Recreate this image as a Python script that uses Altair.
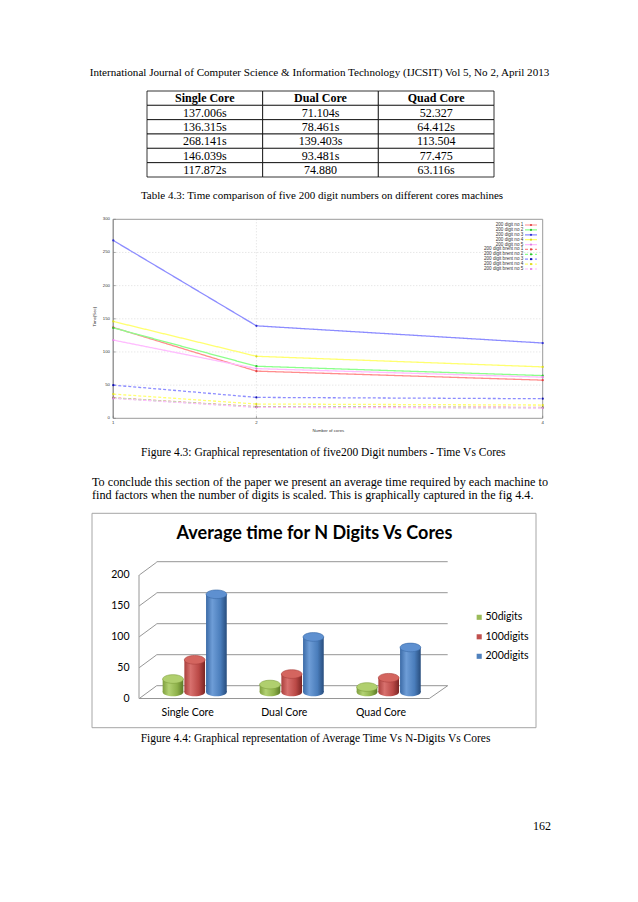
import altair as alt
import pandas as pd

M = 8  # page margin of the html page


def cx(v):
    return v - M


def cy(v):
    return v - M


SERIF = "Liberation Serif"
SANS = "Liberation Sans"
CAL = "Lato"

# ---------------- data ----------------
header_text = "International Journal of Computer Science & Information Technology (IJCSIT) Vol 5, No 2, April 2013"

table_header = ["Single Core", "Dual Core", "Quad Core"]
table_single = ["137.006s", "136.315s", "268.141s", "146.039s", "117.872s"]
table_dual = ["71.104s", "78.461s", "139.403s", "93.481s", "74.880"]
table_quad = ["52.327", "64.412s", "113.504", "77.475", "63.116s"]
table_caption = "Table 4.3: Time comparison of five 200 digit numbers on different cores machines"

cores = [1, 2, 4]
line_series = [
    "200 digit no 1", "200 digit no 2", "200 digit no 3", "200 digit no 4", "200 digit no 5",
    "200 digit brent no 1", "200 digit brent no 2", "200 digit brent no 3",
    "200 digit brent no 4", "200 digit brent no 5",
]
line_styles = ["solid"] * 5 + ["dashed"] * 5
digit_no_1 = [137.0, 71.1, 57.5]
digit_no_2 = [136.3, 78.5, 64.4]
digit_no_3 = [268.1, 139.4, 113.5]
digit_no_4 = [146.0, 93.5, 77.5]
digit_no_5 = [117.9, 74.9, 62.0]
brent_no_1 = [31.0, 17.5, 16.5]
brent_no_2 = [30.5, 17.0, 16.0]
brent_no_3 = [50.0, 31.5, 29.5]
brent_no_4 = [36.5, 21.5, 20.0]
brent_no_5 = [30.0, 16.5, 15.5]
line_colors = ["#ff8c8c", "#8cff8c", "#8c8cff", "#ffff70", "#ffbbff",
               "#ff8c8c", "#8cff8c", "#8c8cff", "#ffff70", "#ffbbff"]
point_colors = ["#e04040", "#30c030", "#3030d0", "#d8d820", "#e080e0",
                "#e04040", "#30c030", "#1010b0", "#d8d820", "#e080e0"]
time_ticks = [0, 50, 100, 150, 200, 250, 300]
core_ticks = [1, 2, 4]
x_title = "Number of cores"
y_title = "Time(Sec)"
fig43_caption = "Figure 4.3: Graphical representation of five200 Digit numbers - Time Vs Cores"

paragraph_lines = [
    "To conclude this section of the paper we present an average time required by each machine to",
    "find factors when the number of digits is scaled. This is graphically captured in the fig 4.4.",
]

bar_title = "Average time for N Digits Vs Cores"
bar_categories = ["Single Core", "Dual Core", "Quad Core"]
bar_series = ["50digits", "100digits", "200digits"]
avg_50 = [21, 12, 8]
avg_100 = [52, 29, 23]
avg_200 = [158, 89, 72]
bar_ticks = [0, 50, 100, 150, 200]
bar_colors = ["#9bbb59", "#c0504d", "#4f81bd"]
fig44_caption = "Figure 4.4: Graphical representation of Average Time Vs N-Digits Vs Cores"
page_number = "162"

layers = []


def label(text, x, y, size, font=SERIF, align="center", weight="normal",
          color="black", angle=0, baseline="middle"):
    return alt.Chart(pd.DataFrame({"t": [text]})).mark_text(
        font=font, fontSize=size, align=align, baseline=baseline,
        fontWeight=weight, color=color, angle=angle,
    ).encode(x=alt.value(cx(x)), y=alt.value(cy(y)), text="t:N")


def box(x0, x1, y0, y1, stroke, width=1.0):
    return alt.Chart(pd.DataFrame({"a": [0]})).mark_rect(
        fill="white", fillOpacity=0, stroke=stroke, strokeWidth=width
    ).encode(x=alt.value(cx(x0)), x2=alt.value(cx(x1)),
             y=alt.value(cy(y0)), y2=alt.value(cy(y1)))


# ---------------- header ----------------
layers.append(label(header_text, 319.5, 73, 11.1))

# ---------------- table ----------------
row_ids = ["h", "r1", "r2", "r3", "r4", "r5"]
cells = []
for col, vals in zip(table_header, [table_single, table_dual, table_quad]):
    cells.append({"col": col, "row": "h", "t": col, "hdr": True})
    for rid, v in zip(row_ids[1:], vals):
        cells.append({"col": col, "row": rid, "t": v, "hdr": False})
tdf = pd.DataFrame(cells)
TX = alt.Scale(type="band", domain=table_header, range=[cx(147), cx(494)],
               paddingInner=0, paddingOuter=0)
TY = alt.Scale(type="band", domain=row_ids, range=[cy(91), cy(177)],
               paddingInner=0, paddingOuter=0)
tbase = alt.Chart(tdf).encode(x=alt.X("col:N", scale=TX, axis=None),
                              y=alt.Y("row:N", scale=TY, axis=None))
layers.append(tbase.mark_rect(fill="white", stroke="black", strokeWidth=0.8))
layers.append(tbase.transform_filter("datum.hdr").mark_text(
    font=SERIF, fontSize=12, fontWeight="bold", baseline="middle").encode(text="t:N"))
layers.append(tbase.transform_filter("!datum.hdr").mark_text(
    font=SERIF, fontSize=12, baseline="middle").encode(text="t:N"))
layers.append(label(table_caption, 322, 195.5, 11))

# ---------------- line chart ----------------
XL = alt.Scale(domain=[1, 4], range=[cx(113.3), cx(542.7)])
YL = alt.Scale(domain=[0, 300], range=[cy(418.3), cy(219.3)])
series_vals = [digit_no_1, digit_no_2, digit_no_3, digit_no_4, digit_no_5,
               brent_no_1, brent_no_2, brent_no_3, brent_no_4, brent_no_5]
lrows = []
for name, style, vals in zip(line_series, line_styles, series_vals):
    for c, v in zip(cores, vals):
        lrows.append({"series": name, "style": style, "cores": c, "time": v})
ldf = pd.DataFrame(lrows)

ygrid = alt.Chart(pd.DataFrame({"v": time_ticks[1:-1]})).mark_rule(
    color="#c8c8c8", strokeDash=[1, 2], strokeWidth=0.6
).encode(x=alt.value(cx(113.3)), x2=alt.value(cx(542.7)),
         y=alt.Y("v:Q", scale=YL, axis=None))
xgrid = alt.Chart(pd.DataFrame({"c": [2]})).mark_rule(
    color="#c8c8c8", strokeDash=[1, 2], strokeWidth=0.6
).encode(x=alt.X("c:Q", scale=XL, axis=None),
         y=alt.value(cy(219.3)), y2=alt.value(cy(418.3)))
layers += [ygrid, xgrid]
layers.append(box(113.3, 542.7, 219.3, 418.3, "#9a9a9a", 1.0))
layers.append(alt.Chart(pd.DataFrame({"a": [0]})).mark_rule(color="#9a9a9a", strokeWidth=1.4).encode(
    x=alt.value(cx(113.3)), y=alt.value(cy(219.3)), y2=alt.value(cy(418.3))))
yt = alt.Chart(pd.DataFrame({"v": time_ticks}))
layers.append(yt.mark_rule(color="#777", strokeWidth=0.6).encode(
    x=alt.value(cx(113.3)), x2=alt.value(cx(115.8)), y=alt.Y("v:Q", scale=YL, axis=None)))
layers.append(yt.mark_text(font=SANS, fontSize=4.3, align="right", baseline="middle", color="#333").encode(
    x=alt.value(cx(110)), y=alt.Y("v:Q", scale=YL, axis=None), text="v:Q"))
xt = alt.Chart(pd.DataFrame({"c": core_ticks}))
layers.append(xt.mark_rule(color="#777", strokeWidth=0.6).encode(
    x=alt.X("c:Q", scale=XL, axis=None), y=alt.value(cy(418.3)), y2=alt.value(cy(415.8))))
layers.append(xt.mark_text(font=SANS, fontSize=4.3, align="center", baseline="middle", color="#333").encode(
    x=alt.X("c:Q", scale=XL, axis=None), y=alt.value(cy(423)), text="c:Q"))
layers.append(label(x_title, 328.3, 430.7, 4.3, font=SANS, color="#333"))
layers.append(label(y_title, 95, 316.7, 4.3, font=SANS, color="#333", angle=270))

LCOL = alt.Scale(domain=line_series, range=line_colors)
PCOL = alt.Scale(domain=line_series, range=point_colors)
LDASH = alt.Scale(domain=["solid", "dashed"], range=[[1, 0], [3, 2]])
layers.append(alt.Chart(ldf).mark_line(strokeWidth=1.3).encode(
    x=alt.X("cores:Q", scale=XL, axis=None),
    y=alt.Y("time:Q", scale=YL, axis=None),
    color=alt.Color("series:N", scale=LCOL, legend=None),
    strokeDash=alt.StrokeDash("style:N", scale=LDASH, legend=None),
    detail="series:N",
))
layers.append(alt.Chart(ldf).mark_point(filled=True, size=5, opacity=1).encode(
    x=alt.X("cores:Q", scale=XL, axis=None),
    y=alt.Y("time:Q", scale=YL, axis=None),
    color=alt.Color("series:N", scale=PCOL, legend=None),
))
# legend
legdf = pd.DataFrame({"series": line_series, "style": line_styles})
LEGY = alt.Scale(type="point", domain=line_series, range=[cy(225), cy(269)], padding=0)
leg = alt.Chart(legdf).encode(y=alt.Y("series:N", scale=LEGY, axis=None))
layers.append(leg.mark_text(font=SANS, fontSize=4.6, align="right", baseline="middle", color="#333").encode(
    x=alt.value(cx(523.3)), text="series:N"))
layers.append(leg.mark_rule(strokeWidth=1.2).encode(
    x=alt.value(cx(525)), x2=alt.value(cx(537)),
    color=alt.Color("series:N", scale=LCOL, legend=None),
    strokeDash=alt.StrokeDash("style:N", scale=LDASH, legend=None)))
layers.append(leg.mark_point(filled=True, size=5, opacity=1).encode(
    x=alt.value(cx(531)), color=alt.Color("series:N", scale=PCOL, legend=None)))

layers.append(label(fig43_caption, 323.3, 452.5, 11.5))

# ---------------- paragraph ----------------
layers.append(label(paragraph_lines[0], 92, 481.5, 12.2, align="left"))
layers.append(label(paragraph_lines[1], 92, 494.5, 12.2, align="left"))

# ---------------- 3D cylinder bar chart ----------------
layers.append(box(92, 536, 513.3, 727.7, "#a6a6a6", 1.0))
layers.append(label(bar_title, 314.5, 534, 18, font=CAL, weight="bold"))

FRONT = alt.Scale(domain=[0, 200], range=[cy(698.5), cy(575)])
BACK = alt.Scale(domain=[0, 200], range=[cy(685.7), cy(561.7)])
MID = alt.Scale(domain=[0, 200], range=[cy(692.0), cy(568.3)])
DEPTH = 20.7  # back wall offset in value units (front scale)
GRID = "#8a8a8a"

bt = alt.Chart(pd.DataFrame({"v": bar_ticks}))
layers.append(bt.mark_rule(color=GRID, strokeWidth=0.9).encode(
    x=alt.value(cx(156.7)), x2=alt.value(cx(447.7)), y=alt.Y("v:Q", scale=BACK, axis=None)))
layers.append(bt.transform_calculate(vb="datum.v + %f" % DEPTH).mark_rule(color=GRID, strokeWidth=0.9).encode(
    x=alt.value(cx(139.3)), x2=alt.value(cx(156.7)),
    y=alt.Y("v:Q", scale=FRONT, axis=None), y2="vb:Q"))
layers.append(alt.Chart(pd.DataFrame({"v": [0]})).transform_calculate(vb="datum.v + %f" % DEPTH).mark_rule(
    color=GRID, strokeWidth=0.9).encode(
    x=alt.value(cx(429.3)), x2=alt.value(cx(447.7)),
    y=alt.Y("v:Q", scale=FRONT, axis=None), y2="vb:Q"))
layers.append(alt.Chart(pd.DataFrame({"v": [0]})).mark_rule(color=GRID, strokeWidth=0.9).encode(
    x=alt.value(cx(139.3)), x2=alt.value(cx(429.3)), y=alt.Y("v:Q", scale=FRONT, axis=None)))
layers.append(alt.Chart(pd.DataFrame({"a": [0]})).mark_rule(color=GRID, strokeWidth=0.9).encode(
    x=alt.value(cx(139.0)), y=alt.value(cy(575)), y2=alt.value(cy(698.5))))
layers.append(bt.mark_text(font=CAL, fontSize=10.5, align="right", baseline="middle").encode(
    x=alt.value(cx(129.5)), y=alt.Y("v:Q", scale=FRONT, axis=None), text="v:Q"))

CATX = alt.Scale(type="band", domain=bar_categories, range=[cx(139.3), cx(429.3)],
                 paddingInner=0, paddingOuter=0)
layers.append(alt.Chart(pd.DataFrame({"cat": bar_categories})).mark_text(
    font=CAL, fontSize=10.5, baseline="middle").encode(
    x=alt.X("cat:N", scale=CATX, axis=None), y=alt.value(cy(712.7)), text="cat:N"))

ELL = "M-1,0A1,0.42,0,1,1,1,0A1,0.42,0,1,1,-1,0Z"
BW = 20.7
ELL_SIZE = BW * BW


def grad(stops):
    return {"gradient": "linear", "x1": 0, "y1": 0, "x2": 1, "y2": 0,
            "stops": [{"offset": o, "color": c} for o, c in stops]}


bar_styles = [
    (grad([(0, "#7f9f3e"), (0.3, "#b3d273"), (0.7, "#8eb14a"), (1, "#5c7a27")]), "#b0cf6e", "#7f9f3e"),
    (grad([(0, "#a9403d"), (0.3, "#d8716e"), (0.7, "#ba4946"), (1, "#7a2523")]), "#d4655f", "#a9403d"),
    (grad([(0, "#3b6aa6"), (0.3, "#6e9dd7"), (0.7, "#4a7dbb"), (1, "#284d7d")]), "#5e90d0", "#3b6aa6"),
]
for idx, (vals, (g, top_fill, top_stroke)) in enumerate(zip([avg_50, avg_100, avg_200], bar_styles)):
    r0 = cx(124.5 + 21.7 * idx)
    xs = alt.Scale(type="band", domain=bar_categories, range=[r0, r0 + 291],
                   paddingInner=0.7866, paddingOuter=0.3933)
    bdf = pd.DataFrame({"cat": bar_categories, "val": vals})
    base = alt.Chart(bdf).encode(x=alt.X("cat:N", scale=xs, axis=None))
    layers.append(base.transform_calculate(zero="0").mark_point(
        shape=ELL, size=ELL_SIZE, filled=True, fill=g, opacity=1, strokeWidth=0).encode(
        y=alt.Y("zero:Q", scale=MID, axis=None)))
    layers.append(base.mark_bar(fill=g).encode(y=alt.Y("val:Q", scale=MID, axis=None)))
    layers.append(base.mark_point(
        shape=ELL, size=ELL_SIZE, filled=True, fill=top_fill, stroke=top_stroke,
        strokeWidth=0.6, opacity=1).encode(y=alt.Y("val:Q", scale=MID, axis=None)))

# bar legend
BLY = alt.Scale(type="point", domain=bar_series, range=[cy(617.3), cy(656.3)], padding=0)
bl = alt.Chart(pd.DataFrame({"s": bar_series})).encode(y=alt.Y("s:N", scale=BLY, axis=None))
layers.append(bl.mark_square(size=26, opacity=1).encode(
    x=alt.value(cx(479.2)),
    color=alt.Color("s:N", scale=alt.Scale(domain=bar_series, range=bar_colors), legend=None)))
layers.append(bl.mark_text(font=CAL, fontSize=10.5, align="left", baseline="middle").encode(
    x=alt.value(cx(485.5)), text="s:N"))

layers.append(label(fig44_caption, 315.5, 738.5, 11.5))
layers.append(label(page_number, 551, 826.3, 12, align="right"))

chart = alt.layer(*layers).resolve_scale(
    x="independent", y="independent", color="independent", strokeDash="independent"
).properties(
    width=622, height=886, padding=0, autosize="none", background="white"
).configure_view(stroke=None)

chart.save("out.html", embed_options={"renderer": "svg", "actions": False})
